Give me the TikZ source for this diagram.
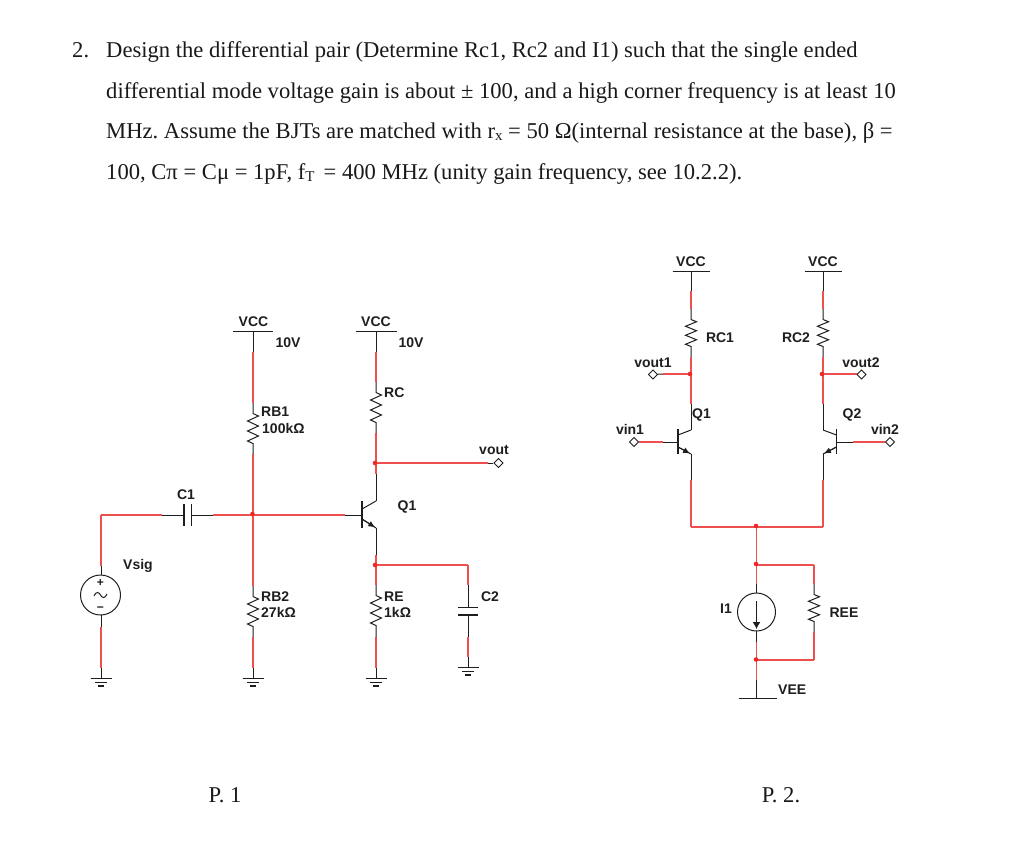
\documentclass[tikz,border=0pt]{standalone}
\usepackage{fontspec}
\setmainfont{Liberation Serif}
\setsansfont{Liberation Sans}
\usepackage{xcolor}
\usetikzlibrary{calc,arrows.meta,decorations.pathmorphing,shapes.geometric}
\definecolor{wirered}{HTML}{EE5050}
\definecolor{dotred}{HTML}{F02828}
\definecolor{ink}{HTML}{1E1E1E}
\frenchspacing
\newcommand{\lowtxt}[1]{\raisebox{-0.25ex}{\fontsize{15}{15}\selectfont #1}}
\tikzset{
  wire/.style={draw=wirered, line width=1.4pt},
  lead/.style={draw=ink, line width=1pt},
  rail/.style={draw=ink, line width=1pt},
  plate/.style={draw=ink, line width=1.7pt},
  res/.style={lead, decorate, decoration={zigzag, segment length=#1, amplitude=5.5pt, pre length=10.5pt, post length=10.5pt}},
  emit/.style={lead, -{Latex[length=7pt,width=6pt]}, shorten >=1pt},
  junc/.style={fill=dotred, circle, inner sep=0pt, minimum size=4.6pt},
  pin/.style={draw=ink, fill=white, diamond, inner sep=0pt, minimum size=9.5pt, line width=0.9pt},
  lab/.style={font=\sffamily\bfseries\fontsize{14}{16}\selectfont, inner sep=0pt, text=ink},
  body/.style={font=\fontsize{22.6}{24}\selectfont, inner sep=0pt, anchor=base west, text=black!90},
  pics/gnd/.style={code={
    \draw[rail] (-10.5,0) -- (10.5,0);
    \draw[rail] (-6,4) -- (6,4);
    \draw[rail,line width=1.3pt] (-3,8) -- (3,8);
  }},
}
\begin{document}
\begin{tikzpicture}[x=1pt,y=-1pt]
  \useasboundingbox (0,0) rectangle (1024,859);

  % problem text
  \node[body] (num) at (72,58) {2.};
  \node[body] (line1) at (106,58) {Design the differential pair (Determine Rc1, Rc2 and I1) such that the single ended};
  \node[body] (line2) at (106,98) {differential mode voltage gain is about ± 100, and a high corner frequency is at least 10};
  \node[body] (line3) at (106,138) {MHz. Assume the BJTs are matched with r\lowtxt{x} = 50 Ω(internal resistance at the base), β =};
  \node[body] (line4) at (106,179) {100, Cπ = Cμ = 1pF, f\lowtxt{T}\kern3.5pt{} = 400 MHz (unity gain frequency, see 10.2.2).};
  \node[body,anchor=base] (p1) at (225,802) {P. 1};
  \node[body,anchor=base] (p2) at (781,802) {P. 2.};

  % P. 1 rails
  \foreach \i/\y in {0/331,1/352,2/403,3/454,4/515,5/586,6/637,7/668,8/678}{
    \coordinate (a\i) at (253,\y);
  }
  \foreach \i/\y in {0/331,1/352,2/382,3/433,4/463,5/474,6/501,7/528,8/555,9/565,10/585,11/637,12/668,13/678}{
    \coordinate (b\i) at (376,\y);
  }
  \foreach \i/\y in {0/515,1/566,2/575,3/615,4/627,5/668,6/678}{
    \coordinate (s\i) at (101,\y);
  }
  \foreach \i/\y in {0/565,1/585,2/607.5,3/615,4/637,5/657,6/667}{
    \coordinate (k\i) at (468,\y);
  }
  \foreach \n/\x in {c0/162,c1/184,c2/191.5,c3/213,c4/345,c5/362}{
    \coordinate (\n) at (\x,515);
  }
  \coordinate (qc) at (362,509);
  \coordinate (qe) at (362,519);
  \coordinate (vo) at (488,463);

  \foreach \a/\b in {a1/a2,a3/a4,a4/a5,a6/a7,b1/b2,b3/b4,b4/b5,b8/b9,b9/b10,b11/b12,s0/s1,s4/s5,
    k0/k1,k5/k4,s0/c0,c3/a4,a4/c4,b4/vo,b9/k0}{
    \draw[wire] (\a) -- (\b);
  }
  \foreach \a/\b in {a0/a1,a7/a8,b0/b1,b5/b6,b6/qc,qe/b7,b7/b8,b12/b13,s1/s2,s3/s4,s5/s6,k1/k2,k3/k4,k5/k6,c0/c1,c2/c3,c4/c5}{
    \draw[lead] (\a) -- (\b);
  }
  \foreach \a/\b in {a2/a3,a5/a6,b2/b3,b10/b11}{
    \draw[res=10pt] (\a) -- (\b);
  }
  \draw[emit] (qe) -- (b7);

  \draw[plate] ($(c1)+(0,-11)$) -- ($(c1)+(0,11)$);
  \draw[plate] ($(c2)+(0,-11)$) -- ($(c2)+(0,11)$);
  \draw[plate] ($(k2)+(-10,0)$) -- ($(k2)+(10,0)$);
  \draw[plate] ($(k3)+(-10,0)$) -- ($(k3)+(10,0)$);
  \draw[lead,line width=1.3pt] (362,501) -- (362,528);
  \draw[rail] ($(a0)+(-20,0)$) -- ($(a0)+(20,0)$);
  \draw[rail] ($(b0)+(-20.5,0)$) -- ($(b0)+(20.5,0)$);
  \foreach \g in {a8,b13,s6,k6}{
    \pic at (\g) {gnd};
  }

  \node[draw=ink,circle,line width=1pt,minimum size=40pt,inner sep=0pt] (vsig) at (100.5,595) {};
  \node[lab,font=\sffamily\bfseries\fontsize{12}{12}\selectfont] (splus) at (100.5,582.5) {+};
  \node[lab,font=\sffamily\bfseries\fontsize{12}{12}\selectfont] (sminus) at (100.5,609.5) {−};
  \draw[lead] (94,596) .. controls (96,591) and (99,592) .. (100.5,595) .. controls (102,598) and (105,599) .. (107,594);

  \foreach \j/\x/\y in {j1/252.5/514,j2/375/463,j3/375/565}{
    \node[junc] (\j) at (\x,\y) {};
  }
  \node[pin] (voutp) at (498.5,463) {};
  \draw[lead] (vo) -- (voutp);

  \node[lab] (vcca) at (253.5,322) {VCC};
  \node[lab] (vccb) at (376,322) {VCC};
  \node[lab] (tena) at (288,343) {10V};
  \node[lab] (tenb) at (411,343) {10V};
  \node[lab,anchor=west] (rb1) at (261,412) {RB1};
  \node[lab,anchor=west] (rb1v) at (262,428) {100kΩ};
  \node[lab,anchor=west] (rb2) at (261,597) {RB2};
  \node[lab,anchor=west] (rb2v) at (261,612) {27kΩ};
  \node[lab,anchor=west] (rc) at (384,393) {RC};
  \node[lab,anchor=west] (re) at (384,597) {RE};
  \node[lab,anchor=west] (rev) at (384,612) {1kΩ};
  \node[lab] (c1l) at (186,495) {C1};
  \node[lab] (c2l) at (490,597) {C2};
  \node[lab] (vsl) at (138,566) {Vsig};
  \node[lab] (vol) at (494,450) {vout};
  \node[lab] (q1a) at (407,507) {Q1};

  % P. 2 rails
  \foreach \s/\x in {l/691,r/823}{
    \foreach \i/\y in {0/271,1/291,2/309,3/357,4/374,5/404,6/430,7/454,8/480,9/527}{
      \coordinate (\s\i) at (\x,\y);
    }
    \draw[rail] ($(\s0)+(-18.5,0)$) -- ($(\s0)+(18.5,0)$);
    \draw[res=9pt] (\s2) -- (\s3);
    \foreach \a/\b in {0/1,5/6,7/8}{
      \draw[lead] (\s\a) -- (\s\b);
    }
    \foreach \a/\b in {1/2,3/4,4/5,8/9}{
      \draw[wire] (\s\a) -- (\s\b);
    }
  }
  \foreach \i/\y in {0/527,1/565,2/584,3/593,4/631,5/642,6/660,7/680,8/698}{
    \coordinate (m\i) at (756.5,\y);
  }
  \foreach \i/\y in {0/565,1/584,2/632,3/660}{
    \coordinate (n\i) at (814,\y);
  }
  \coordinate (lb) at (678,442);
  \coordinate (lbm) at (663,442);
  \coordinate (rb) at (836.5,442);
  \coordinate (rbm) at (853,442);
  \coordinate (lc) at (678,435);
  \coordinate (rc0) at (836.5,435);
  \coordinate (le) at (678,447);
  \coordinate (re0) at (836.5,447);
  \coordinate (lo) at (663,374);
  \coordinate (ro) at (857,374);

  \node[pin] (vout1p) at (653,374.5) {};
  \node[pin] (vout2p) at (861.5,374.5) {};
  \node[pin] (vin1p) at (634,442) {};
  \node[pin] (vin2p) at (890,442) {};

  \foreach \a/\b in {l9/r9,m0/m1,m1/m2,m1/n0,n0/n1,n2/n3,n3/m6,m5/m6,m6/m7,l4/lo,r4/ro,lbm/vin1p,rbm/vin2p}{
    \draw[wire] (\a) -- (\b);
  }
  \foreach \a/\b in {m2/m3,m4/m5,m7/m8,lo/vout1p,ro/vout2p,lb/lbm,rb/rbm,lc/l6,rc0/r6,le/l7,re0/r7}{
    \draw[lead] (\a) -- (\b);
  }
  \draw[emit] (le) -- (l7);
  \draw[emit] (re0) -- (r7);
  \draw[res=9pt] (n1) -- (n2);
  \draw[lead,line width=1.3pt] (678,429) -- (678,454);
  \draw[lead,line width=1.3pt] (836.5,429) -- (836.5,454);
  \draw[rail] ($(m8)+(-18,0)$) -- ($(m8)+(20,0)$);

  \node[draw=ink,circle,line width=1pt,minimum size=38pt,inner sep=0pt] (isrc) at (756.5,612) {};
  \draw[lead,-{Latex[length=7pt,width=8pt]}] (756.5,601) -- (756.5,629);

  \foreach \j/\x/\y in {j4/690/374,j5/822/374,j6/756/526,j7/756/564,j8/756/659.5}{
    \node[junc] (\j) at (\x,\y) {};
  }

  \node[lab] (vccl) at (691,262) {VCC};
  \node[lab] (vccr) at (823,262) {VCC};
  \node[lab] (rc1) at (720,338) {RC1};
  \node[lab] (rc2) at (796,338) {RC2};
  \node[lab] (vo1) at (653,363) {vout1};
  \node[lab] (vo2) at (861,363) {vout2};
  \node[lab] (vi1) at (630,429) {vin1};
  \node[lab] (vi2) at (885,429) {vin2};
  \node[lab,anchor=west] (q1b) at (692,415) {Q1};
  \node[lab] (q2) at (852,415) {Q2};
  \node[lab] (i1) at (726,609) {I1};
  \node[lab] (ree) at (844,613) {REE};
  \node[lab,anchor=west] (vee) at (778,690) {VEE};
\end{tikzpicture}
\end{document}
